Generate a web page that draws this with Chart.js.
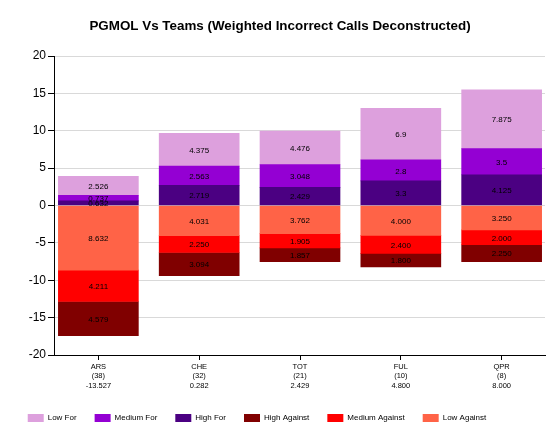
<!DOCTYPE html>
<html>
<head>
<meta charset="utf-8">
<script src="https://cdn.jsdelivr.net/npm/chart.js@4"></script>
<style>
  html, body { margin: 0; padding: 0; background: #fff; }
  #wrap { width: 560px; height: 440px; }
</style>
</head>
<body>
<div id="wrap"><canvas id="chart"></canvas></div>
<script>
const teams = ["ARS", "CHE", "TOT", "FUL", "QPR"];
const games = ["38", "32", "21", "10", "8"];
const netScore = ["-13.527", "0.282", "2.429", "4.800", "8.000"];
// values as printed on the bars
const lowFor = ["2.526", "4.375", "4.476", "6.9", "7.875"];
const mediumFor = ["0.737", "2.563", "3.048", "2.8", "3.5"];
const highFor = ["0.632", "2.719", "2.429", "3.3", "4.125"];
const lowAgainst = ["8.632", "4.031", "3.762", "4.000", "3.250"];
const mediumAgainst = ["4.211", "2.250", "1.905", "2.400", "2.000"];
const highAgainst = ["4.579", "3.094", "1.857", "1.800", "2.250"];
const legendOrder = ["Low For", "Medium For", "High For", "High Against", "Medium Against", "Low Against"];

function makeSet(label, vals, color, sign) {
  return {
    label: label,
    text: vals,
    data: vals.map((v, i) => ({ x: i, y: sign * Number(v) })),
    backgroundColor: color,
    borderWidth: 0,
    barThickness: 80
  };
}

// stacking order: from zero outwards
const datasets = [
  makeSet("High For", highFor, "#4B0082", 1),
  makeSet("Medium For", mediumFor, "#9400D3", 1),
  makeSet("Low For", lowFor, "#DDA0DD", 1),
  makeSet("Low Against", lowAgainst, "#FF6347", -1),
  makeSet("Medium Against", mediumAgainst, "#FF0000", -1),
  makeSet("High Against", highAgainst, "#800000", -1)
];

const segmentLabels = {
  id: "segmentLabels",
  afterDatasetsDraw(chart) {
    const c = chart.ctx;
    c.save();
    c.font = "8px Arial";
    c.fillStyle = "#000";
    c.textAlign = "center";
    c.textBaseline = "middle";
    chart.data.datasets.forEach((ds, i) => {
      chart.getDatasetMeta(i).data.forEach((bar, j) => {
        const p = bar.getProps(["x", "y", "base"], true);
        c.fillText(ds.text[j], p.x, (p.y + p.base) / 2 + 1);
      });
    });
    c.restore();
  }
};

// legend sits a bit left of centre in the original
const legendShift = {
  id: "legendShift",
  afterLayout(chart) {
    chart.legend.left -= 23;
    chart.legend.right -= 23;
  }
};

Chart.defaults.font.family = "Arial, 'Liberation Sans', sans-serif";
Chart.defaults.color = "#000";

new Chart(document.getElementById("chart"), {
  type: "bar",
  data: { datasets: datasets },
  plugins: [segmentLabels, legendShift],
  options: {
    responsive: true,
    maintainAspectRatio: false,
    animation: false,
    layout: { padding: { left: 0, right: 0, top: 0, bottom: 8 } },
    plugins: {
      title: {
        display: true,
        text: "PGMOL Vs Teams (Weighted Incorrect Calls Deconstructed)",
        font: { size: 13.4, weight: "bold" },
        color: "#000",
        padding: { top: 18, bottom: 22 }
      },
      legend: {
        position: "bottom",
        labels: {
          boxWidth: 16,
          boxHeight: 8,
          padding: 18,
          font: { size: 8 },
          color: "#000",
          sort: (a, b) => legendOrder.indexOf(a.text) - legendOrder.indexOf(b.text)
        }
      },
      tooltip: { enabled: false }
    },
    scales: {
      x: {
        type: "linear",
        stacked: true,
        offset: false,
        min: -0.44,
        max: 4.43,
        afterBuildTicks: (scale) => { scale.ticks = teams.map((t, i) => ({ value: i })); },
        ticks: {
          autoSkip: false,
          maxRotation: 0,
          padding: 2,
          font: { size: 7.5, lineHeight: 1.25 },
          color: "#000",
          callback: (v) => [teams[v], "(" + games[v] + ")", netScore[v]]
        },
        grid: { offset: false, drawOnChartArea: false, drawTicks: true, tickLength: 5, tickColor: "#000" },
        border: { display: true, color: "#000" },
        afterFit: (scale) => { scale.height = 41; }
      },
      y: {
        stacked: true,
        min: -20,
        max: 20,
        ticks: { stepSize: 5, font: { size: 12 }, color: "#000", padding: 2 },
        grid: { color: "#d9d9d9", tickColor: "#000", tickLength: 6 },
        border: { display: true, color: "#000" },
        afterFit: (scale) => { scale.width = 54; }
      },
      // empty strip on the right so the title centres on the full width
      spacer: {
        type: "linear",
        position: "right",
        ticks: { display: false },
        grid: { display: false, drawTicks: false },
        border: { display: false },
        afterFit: (scale) => { scale.width = 15; }
      }
    }
  }
});
</script>
</body>
</html>
